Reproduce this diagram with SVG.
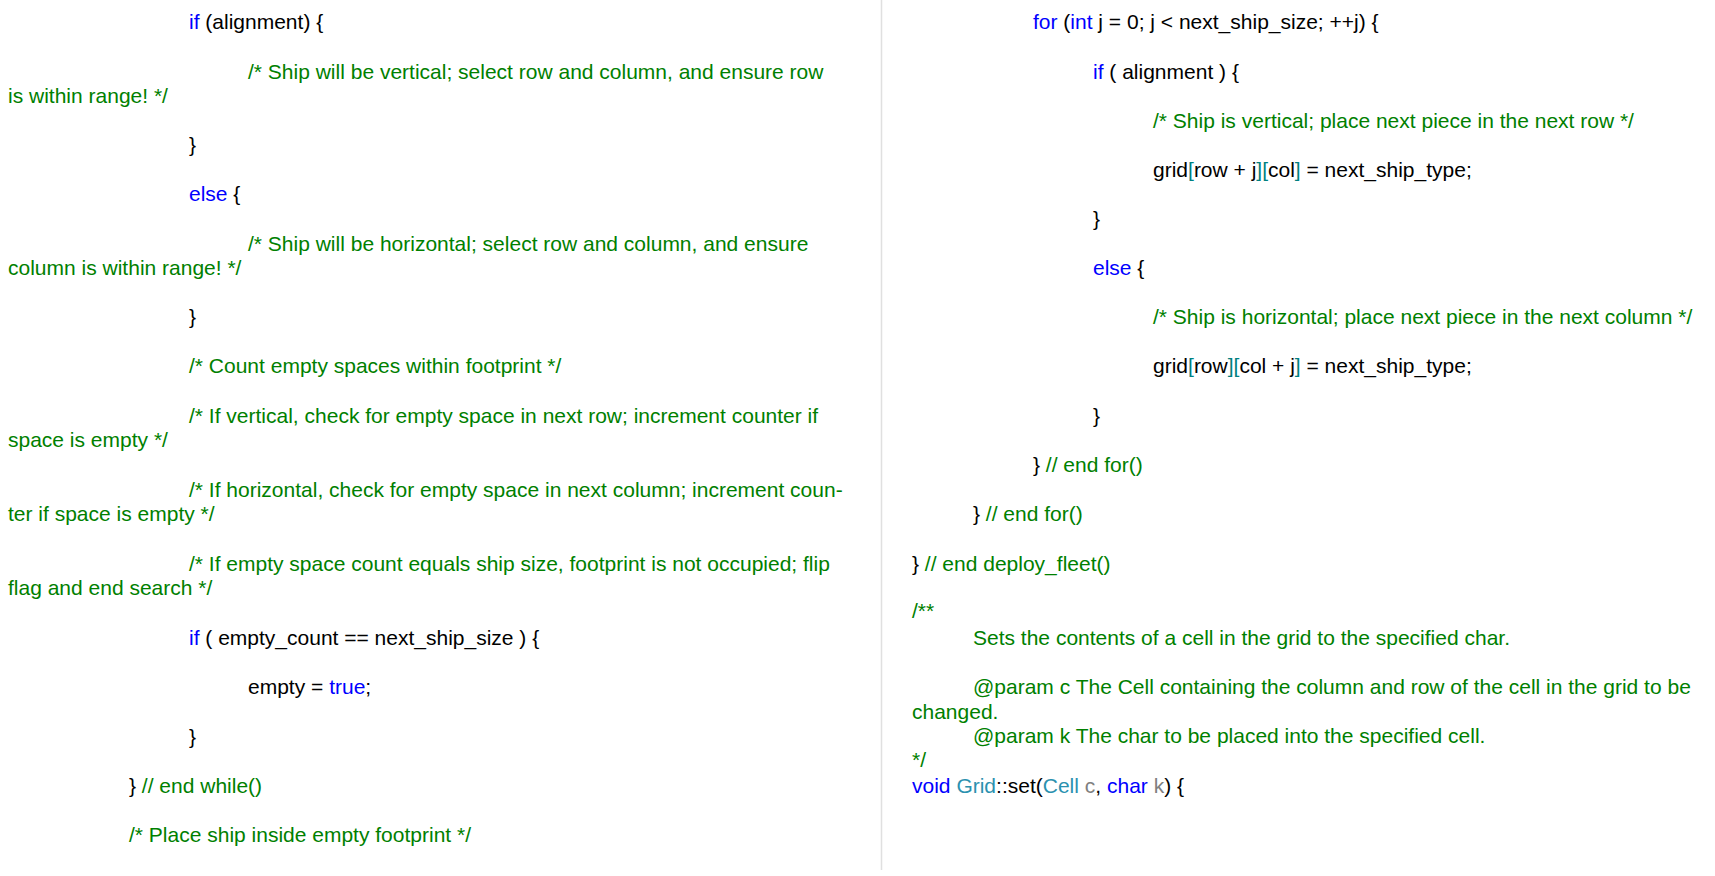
<svg xmlns="http://www.w3.org/2000/svg" width="1715" height="876" viewBox="0 0 1715 876">
<style>
text{font-family:"Liberation Sans",Arial,sans-serif;font-size:21px;fill:#000}
.k{fill:#0000ff}.c{fill:#008000}.t{fill:#008080}.ty{fill:#2b91af}.g{fill:#808080}
</style>
<rect width="1715" height="876" fill="#fff"/>
<line x1="881.5" y1="0" x2="881.5" y2="870" stroke="#e0e0e0" stroke-width="1.5"/>
<g id="left">
<text x="189" y="29"><tspan class="k">if</tspan> (alignment) {</text>
<text x="248" y="79" class="c">/* Ship will be vertical; select row and column, and ensure row</text>
<text x="8" y="103" class="c">is within range! */</text>
<text x="189" y="152">}</text>
<text x="189" y="201"><tspan class="k">else</tspan> {</text>
<text x="248" y="251" class="c">/* Ship will be horizontal; select row and column, and ensure</text>
<text x="8" y="275" class="c">column is within range! */</text>
<text x="189" y="324">}</text>
<text x="189" y="373" class="c">/* Count empty spaces within footprint */</text>
<text x="189" y="423" class="c">/* If vertical, check for empty space in next row; increment counter if</text>
<text x="8" y="447" class="c">space is empty */</text>
<text x="189" y="497" class="c">/* If horizontal, check for empty space in next column; increment coun-</text>
<text x="8" y="521" class="c">ter if space is empty */</text>
<text x="189" y="571" class="c">/* If empty space count equals ship size, footprint is not occupied; flip</text>
<text x="8" y="595" class="c">flag and end search */</text>
<text x="189" y="645"><tspan class="k">if</tspan> ( empty_count == next_ship_size ) {</text>
<text x="248" y="694">empty = <tspan class="k">true</tspan>;</text>
<text x="189" y="744">}</text>
<text x="129" y="793">} <tspan class="c">// end while()</tspan></text>
<text x="129" y="842" class="c">/* Place ship inside empty footprint */</text>
</g>
<g id="right">
<text x="1033" y="29"><tspan class="k">for</tspan> (<tspan class="k">int</tspan> j = 0; j &lt; next_ship_size; ++j) {</text>
<text x="1093" y="79"><tspan class="k">if</tspan> ( alignment ) {</text>
<text x="1153" y="128" class="c">/* Ship is vertical; place next piece in the next row */</text>
<text x="1153" y="177">grid<tspan class="t">[</tspan>row + j<tspan class="t">][</tspan>col<tspan class="t">]</tspan> = next_ship_type;</text>
<text x="1093" y="226">}</text>
<text x="1093" y="275"><tspan class="k">else</tspan> {</text>
<text x="1153" y="324" class="c">/* Ship is horizontal; place next piece in the next column */</text>
<text x="1153" y="373">grid<tspan class="t">[</tspan>row<tspan class="t">][</tspan>col + j<tspan class="t">]</tspan> = next_ship_type;</text>
<text x="1093" y="423">}</text>
<text x="1033" y="472">} <tspan class="c">// end for()</tspan></text>
<text x="973" y="521">} <tspan class="c">// end for()</tspan></text>
<text x="912" y="571">} <tspan class="c">// end deploy_fleet()</tspan></text>
<text x="912" y="618" class="c">/**</text>
<text x="973" y="645" class="c">Sets the contents of a cell in the grid to the specified char.</text>
<text x="973" y="694" class="c">@param c The Cell containing the column and row of the cell in the grid to be</text>
<text x="912" y="719" class="c">changed.</text>
<text x="973" y="743" class="c">@param k The char to be placed into the specified cell.</text>
<text x="912" y="767" class="c">*/</text>
<text x="912" y="793"><tspan class="k">void</tspan> <tspan class="ty">Grid</tspan>::set(<tspan class="ty">Cell</tspan> <tspan class="g">c</tspan>, <tspan class="k">char</tspan> <tspan class="g">k</tspan>) {</text>
</g>
</svg>
